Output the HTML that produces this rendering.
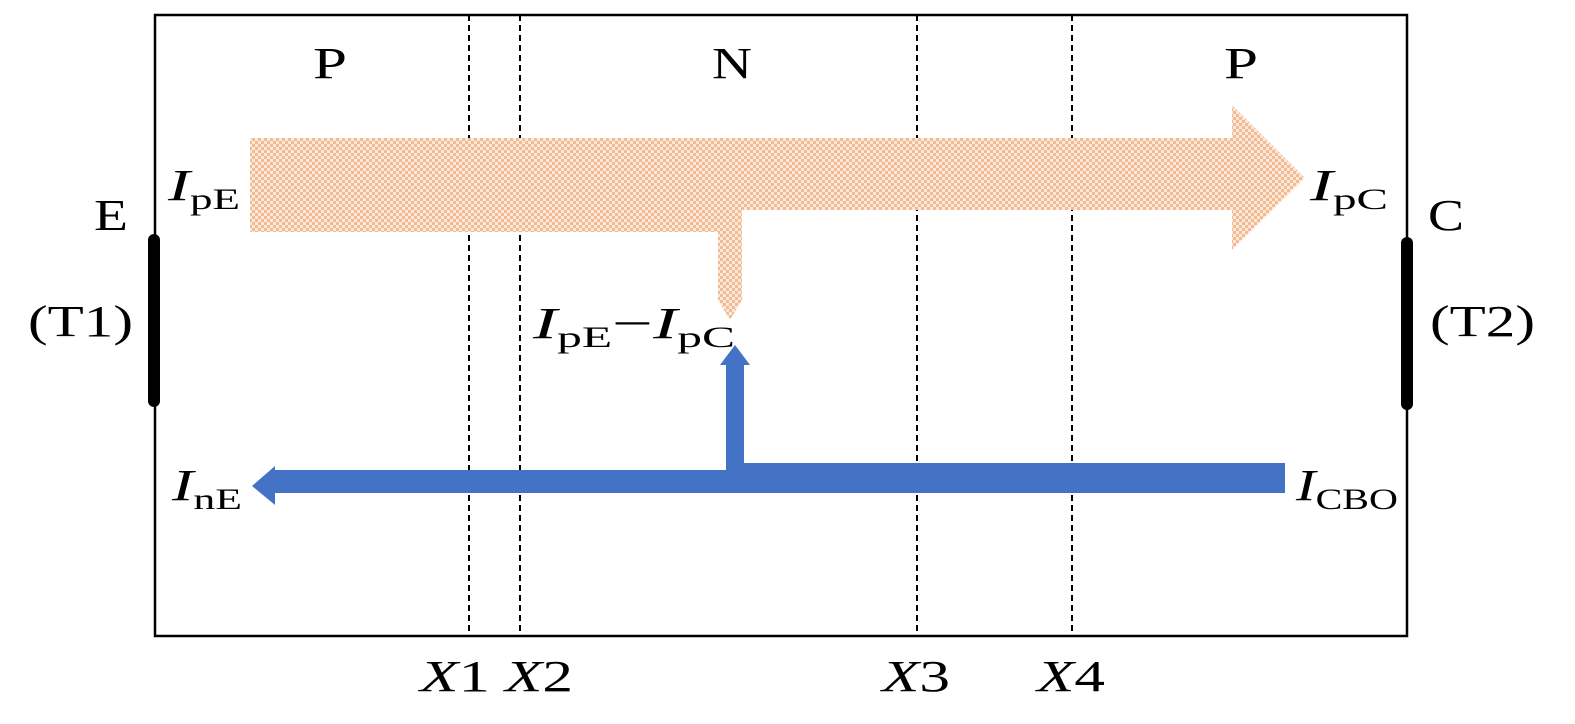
<!DOCTYPE html>
<html><head><style>body{margin:0;background:#fff}</style></head><body>
<svg width="1575" height="719" xmlns="http://www.w3.org/2000/svg" font-family="Liberation Serif, serif">
<defs>
<pattern id="ck" width="6" height="6" patternUnits="userSpaceOnUse">
<rect width="6" height="6" fill="#fce8d8"/>
<rect width="3" height="3" fill="#f3bb93"/><rect x="3" y="3" width="3" height="3" fill="#f3bb93"/>
</pattern>
</defs>
<rect x="155" y="15" width="1252" height="621" fill="none" stroke="#000" stroke-width="2.5"/>
<g stroke="#000" stroke-width="2" stroke-dasharray="6,4">
<line x1="469" y1="15" x2="469" y2="636"/><line x1="520" y1="15" x2="520" y2="636"/>
<line x1="917" y1="15" x2="917" y2="636"/><line x1="1072" y1="15" x2="1072" y2="636"/>
</g>
<polygon fill="url(#ck)" points="250,138 1232,138 1232,105 1305,178 1232,250 1232,210 742,210 742,300 730,320 718,300 718,232 250,232"/>
<polygon fill="#4472c4" points="1285,463 1285,493 275,493 275,505 252,486 275,466 275,470 726,470 726,365 720,365 735,345 750,365 744,365 744,463"/>
<rect x="148" y="234" width="12" height="173" rx="6" fill="#000"/>
<rect x="1401" y="237" width="12" height="173" rx="6" fill="#000"/>
<g font-size="44" fill="#000">
<text x="313" y="78" textLength="34" lengthAdjust="spacingAndGlyphs">P</text>
<text x="712" y="78" textLength="40" lengthAdjust="spacingAndGlyphs">N</text>
<text x="1224" y="78" textLength="34" lengthAdjust="spacingAndGlyphs">P</text>
<text x="94" y="230" textLength="34" lengthAdjust="spacingAndGlyphs">E</text>
<text x="1428" y="230" textLength="36" lengthAdjust="spacingAndGlyphs">C</text>
<text x="28" y="336" textLength="105" lengthAdjust="spacingAndGlyphs">(T1)</text>
<text x="1430" y="336" textLength="105" lengthAdjust="spacingAndGlyphs">(T2)</text>
</g>
<g font-size="44" fill="#000" font-style="italic">
<text x="168" y="200" textLength="72" lengthAdjust="spacingAndGlyphs">I<tspan font-size="30" font-style="normal" dy="9">pE</tspan></text>
<text x="1310" y="200" textLength="78" lengthAdjust="spacingAndGlyphs">I<tspan font-size="30" font-style="normal" dy="9">pC</tspan></text>
<text x="533" y="338" textLength="202" lengthAdjust="spacingAndGlyphs">I<tspan font-size="30" font-style="normal" dy="9">pE</tspan><tspan font-style="normal" dy="-9">−</tspan>I<tspan font-size="30" font-style="normal" dy="9">pC</tspan></text>
<text x="172" y="500" textLength="70" lengthAdjust="spacingAndGlyphs">I<tspan font-size="30" font-style="normal" dy="9">nE</tspan></text>
<text x="1296" y="500" textLength="102" lengthAdjust="spacingAndGlyphs">I<tspan font-size="30" font-style="normal" dy="9">CBO</tspan></text>
<text x="420" y="691" textLength="70" lengthAdjust="spacingAndGlyphs">X<tspan font-style="normal">1</tspan></text>
<text x="505" y="691" textLength="68" lengthAdjust="spacingAndGlyphs">X<tspan font-style="normal">2</tspan></text>
<text x="882" y="691" textLength="68" lengthAdjust="spacingAndGlyphs">X<tspan font-style="normal">3</tspan></text>
<text x="1037" y="691" textLength="68" lengthAdjust="spacingAndGlyphs">X<tspan font-style="normal">4</tspan></text>
</g>
</svg>
</body></html>
